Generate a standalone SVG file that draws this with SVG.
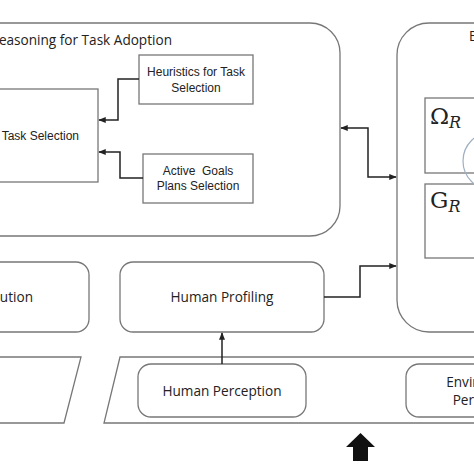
<svg xmlns="http://www.w3.org/2000/svg" width="474" height="474" viewBox="0 0 474 474">
<style>
.box{fill:#fff;stroke:#777;stroke-width:1.3}
.t{font-family:"Open Sans","Noto Sans",sans-serif;font-size:13.6px;fill:#222}
.a{font-family:"Liberation Sans",Arial,sans-serif;font-size:12px;fill:#222}
.m{font-family:"DejaVu Serif","Liberation Serif",serif;fill:#222}
.c{fill:none;stroke:#222;stroke-width:1.5}
</style>
<defs>
<marker id="ah" viewBox="0 0 10 10" refX="9" refY="5" markerWidth="5" markerHeight="5" orient="auto-start-reverse">
<path d="M0,1 L10,5 L0,9 z" fill="#222"/>
</marker>
</defs>
<rect width="474" height="474" fill="#fff"/>

<g id="reasoning">
<rect class="box" x="-40" y="23" width="380" height="213" rx="30"/>
<text class="t" x="-9.5" y="45" font-size="14.6">Reasoning for Task Adoption</text>
</g>
<g id="task-selection">
<rect class="box" x="-20" y="89" width="118" height="93"/>
<text class="a" x="79" y="140" text-anchor="end">Task Selection</text>
</g>
<g id="heuristics">
<rect class="box" x="139" y="55" width="114" height="49"/>
<text class="a" x="196" y="76" text-anchor="middle">Heuristics for Task</text>
<text class="a" x="196" y="92" text-anchor="middle">Selection</text>
</g>
<g id="active-goals">
<rect class="box" x="143" y="154" width="110" height="49"/>
<text class="a" x="198" y="175" text-anchor="middle" xml:space="preserve">Active  Goals</text>
<text class="a" x="198" y="190" text-anchor="middle">Plans Selection</text>
</g>

<g id="belief">
<rect class="box" x="397" y="23" width="140" height="309" rx="32"/>
<text class="t" x="469" y="41">B</text>
</g>
<g id="omega">
<rect class="box" x="425" y="98" width="80" height="75"/>
<text class="m" x="430" y="124" font-size="23">Ω<tspan font-style="italic" font-size="16" dy="4">R</tspan></text>
</g>
<g id="g-r">
<rect class="box" x="425" y="184" width="80" height="74"/>
<text class="m" x="430" y="208" font-size="23">G<tspan font-style="italic" font-size="16" dy="4">R</tspan></text>
</g>
<g id="ellipse">
<circle cx="492" cy="161" r="29" fill="none" stroke="#9fb0c2" stroke-width="1.2"/>
</g>

<g id="execution">
<rect class="box" x="-40" y="262" width="129" height="70" rx="13"/>
<text class="t" x="33" y="302" text-anchor="end">Execution</text>
</g>
<g id="human-profiling">
<rect class="box" x="120" y="262" width="204" height="70" rx="13"/>
<text class="t" x="222" y="302" text-anchor="middle">Human Profiling</text>
</g>

<g id="left-plane">
<polygon class="box" points="-40,357 81,357 64,423 -40,423"/>
</g>
<g id="perception-plane">
<polygon class="box" points="120,357 500,357 500,423 104,423"/>
</g>
<g id="human-perception">
<rect class="box" x="138" y="364" width="168" height="53" rx="13"/>
<text class="t" x="222" y="396" text-anchor="middle">Human Perception</text>
</g>
<g id="env-perception">
<rect class="box" x="406" y="364" width="120" height="53" rx="13"/>
<text class="t" x="487" y="387" text-anchor="middle">Environment</text>
<text class="t" x="487" y="405" text-anchor="middle">Perception</text>
</g>

<g id="connectors">
<path class="c" d="M139,79 H118 V120 H99" marker-end="url(#ah)"/>
<path class="c" d="M143,178 H120 V152 H99" marker-end="url(#ah)"/>
<path class="c" d="M341,128 H368 V177 H396" marker-start="url(#ah)" marker-end="url(#ah)"/>
<path class="c" d="M324,297 H360 V266 H396" marker-end="url(#ah)"/>
<path class="c" d="M222,364 V333" marker-end="url(#ah)"/>
</g>
<g id="big-arrow">
<polygon points="360.5,433 375,447 368,447 368,461 353,461 353,447 346,447" fill="#111"/>
</g>
</svg>
